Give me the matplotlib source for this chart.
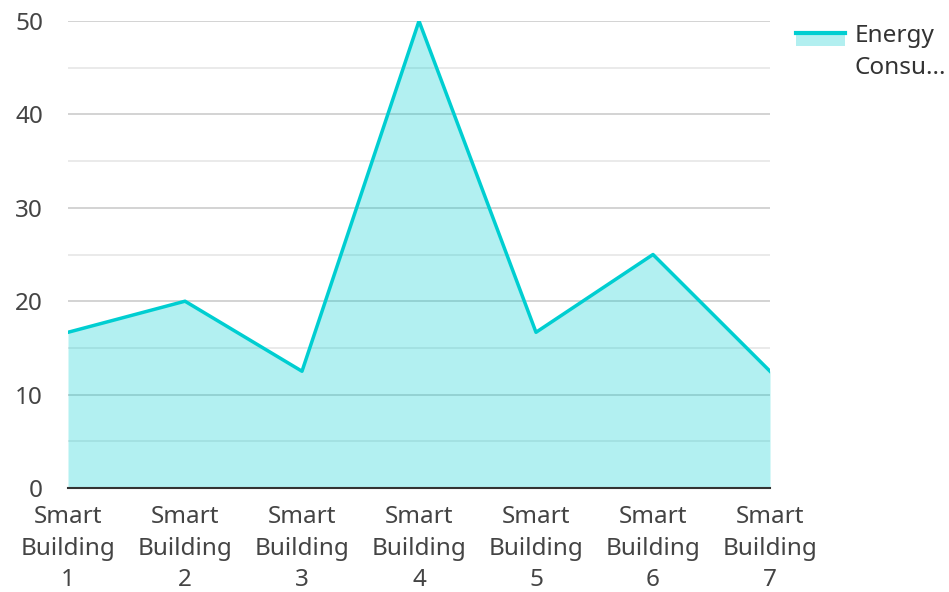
import matplotlib.pyplot as plt
from matplotlib.patches import Rectangle
from matplotlib.lines import Line2D

plt.rcParams['font.family'] = ['Noto Sans', 'DejaVu Sans']

buildings = ["Smart\nBuilding\n1", "Smart\nBuilding\n2", "Smart\nBuilding\n3",
             "Smart\nBuilding\n4", "Smart\nBuilding\n5", "Smart\nBuilding\n6",
             "Smart\nBuilding\n7"]
energy = [16.67, 20, 12.5, 50, 16.67, 25, 12.5]
series_name = "Energy\nConsu..."

color = "#00CED1"
fill = "#B2EFF0"
fs = 17.5

fig = plt.figure(figsize=(9.49, 5.92), dpi=100)
ax = fig.add_axes([68/949, 104/592, 702/949, 467/592])

x = list(range(len(energy)))
ax.fill_between(x, energy, 0, color=color, alpha=0.3, linewidth=0, zorder=2)
ax.plot(x, energy, color=color, linewidth=2.5, zorder=3)

ax.set_xlim(0, len(energy) - 1)
ax.set_ylim(0, 50)
ax.set_yticks(range(0, 51, 10))
ax.set_yticks(range(5, 50, 10), minor=True)
ax.set_xticks(x)
ax.set_xticklabels(buildings)

ax.set_axisbelow(True)
ax.grid(axis='y', which='major', color='#cccccc', linewidth=1.2)
ax.grid(axis='y', which='minor', color='#e6e6e6', linewidth=1.2)

for s in ['top', 'right', 'left']:
    ax.spines[s].set_visible(False)
ax.spines['bottom'].set_color('#333333')
ax.spines['bottom'].set_linewidth(1.5)
ax.spines['bottom'].set_zorder(4)

ax.tick_params(axis='both', which='both', length=0, labelsize=fs, labelcolor='#444444')
ax.tick_params(axis='y', pad=18)
ax.tick_params(axis='x', pad=12.5)
for t in ax.get_xticklabels():
    t.set_linespacing(1.42)

# legend
fig.add_artist(Rectangle((796/949, 1 - 46/592), 49/949, 13/592,
                         transform=fig.transFigure, color=fill, linewidth=0))
fig.add_artist(Line2D([796/949, 845/949], [1 - 33/592, 1 - 33/592],
                      transform=fig.transFigure, color=color, linewidth=3))
fig.text(855/949, 1 - 24/592, series_name, fontsize=fs, color='#333333',
         va='top', ha='left', linespacing=1.44)

fig.savefig("out.png", dpi=100)
